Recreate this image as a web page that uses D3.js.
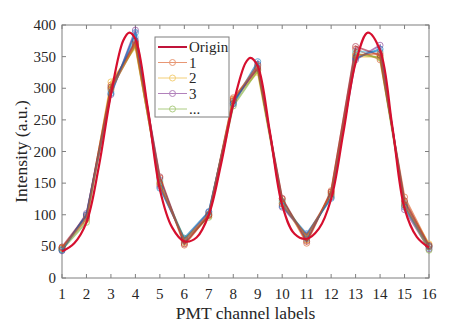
<!DOCTYPE html>
<html>
<head>
<meta charset="utf-8">
<script src="https://cdn.jsdelivr.net/npm/d3@7"></script>
<style>
  body { margin: 0; background: #fff; }
  text { font-family: "Liberation Serif", "DejaVu Serif", serif; fill: #262626; }
</style>
</head>
<body>
<script>
// channel labels and y ticks
var channels = d3.range(1, 17);
var yTicks = [0, 50, 100, 150, 200, 250, 300, 350, 400];

// red "Origin" curve
var originX = [1, 1.5, 2, 2.5, 3, 3.5, 3.75, 4, 4.5, 5, 5.5, 6, 6.5, 7, 7.5, 8, 8.5, 8.7, 9, 9.5, 10, 10.5, 11, 11.5, 12, 12.5, 13, 13.5, 14, 14.5, 15, 15.5, 16];
var originY = [42, 55, 88, 175, 290, 375, 388, 378, 270, 140, 80, 58, 64, 100, 180, 275, 340, 348, 335, 230, 115, 70, 62, 78, 125, 230, 340, 388, 360, 240, 110, 65, 48];

// measured runs, one per channel
var run1 = [47, 97, 305, 372, 158, 52, 100, 285, 330, 125, 55, 138, 362, 345, 128, 52];
var run2 = [48, 92, 310, 365, 152, 56, 98, 282, 325, 118, 60, 135, 350, 350, 120, 54];
var run3 = [43, 102, 290, 392, 145, 60, 104, 275, 338, 112, 68, 128, 345, 368, 108, 46];
var run4 = [45, 88, 300, 368, 150, 62, 96, 272, 328, 122, 64, 130, 355, 348, 115, 44];
var run5 = [46, 95, 295, 380, 155, 58, 102, 278, 335, 120, 62, 132, 358, 358, 118, 48];
var run6 = [49, 99, 302, 375, 160, 54, 99, 280, 332, 126, 58, 136, 366, 352, 122, 51];
var run7 = [44, 100, 292, 388, 142, 63, 105, 276, 342, 114, 70, 126, 348, 362, 112, 50];
var run8 = [47, 94, 298, 370, 148, 59, 101, 283, 336, 117, 66, 133, 352, 355, 116, 49];

var runs = [run1, run2, run3, run4, run5, run6, run7, run8];
var runColors = ["#D95319", "#EDB120", "#7E2F8E", "#77AC30", "#4DBEEE", "#A2142F", "#0072BD", "#D95319"];

var width = 474, height = 323;
var margin = {left: 62, right: 45, top: 25, bottom: 45};

var svg = d3.select("body").append("svg")
            .attr("width", width)
            .attr("height", height);

var x = d3.scaleLinear().domain([1, 16]).range([margin.left, width - margin.right]);
var y = d3.scaleLinear().domain([0, 400]).range([height - margin.bottom, margin.top]);

var axisColor = "#7f7f7f";

// box
svg.append("rect")
   .attr("x", x(1)).attr("y", y(400))
   .attr("width", x(16) - x(1)).attr("height", y(0) - y(400))
   .attr("fill", "none").attr("stroke", axisColor).attr("stroke-width", 1);

// inward ticks on all four sides
var gTicks = svg.append("g").attr("stroke", axisColor).attr("stroke-width", 1);
channels.forEach(function(c){
   gTicks.append("line").attr("x1", x(c)).attr("x2", x(c)).attr("y1", y(0)).attr("y2", y(0) - 4);
   gTicks.append("line").attr("x1", x(c)).attr("x2", x(c)).attr("y1", y(400)).attr("y2", y(400) + 4);
});
yTicks.forEach(function(t){
   gTicks.append("line").attr("x1", x(1)).attr("x2", x(1) + 4).attr("y1", y(t)).attr("y2", y(t));
   gTicks.append("line").attr("x1", x(16)).attr("x2", x(16) - 4).attr("y1", y(t)).attr("y2", y(t));
});

// tick labels
svg.selectAll(".xlab").data(channels).enter().append("text")
   .attr("class", "xlab")
   .attr("x", function(d){ return x(d); })
   .attr("y", y(0) + 21)
   .attr("text-anchor", "middle")
   .style("font-size", "15px")
   .text(function(d){ return d; });

svg.selectAll(".ylab").data(yTicks).enter().append("text")
   .attr("class", "ylab")
   .attr("x", x(1) - 6)
   .attr("y", function(d){ return y(d) + 5; })
   .attr("text-anchor", "end")
   .style("font-size", "15px")
   .text(function(d){ return d; });

// axis titles
svg.append("text")
   .attr("x", (x(1) + x(16)) / 2)
   .attr("y", 319)
   .attr("text-anchor", "middle")
   .style("font-size", "17.5px")
   .text("PMT channel labels");

svg.append("text")
   .attr("transform", "translate(27," + ((y(0) + y(400)) / 2) + ") rotate(-90)")
   .attr("text-anchor", "middle")
   .style("font-size", "17.5px")
   .text("Intensity (a.u.)");

// measured runs
var runLine = d3.line()
   .x(function(d, i){ return x(channels[i]); })
   .y(function(d){ return y(d); });

runs.forEach(function(r, k){
   var g = svg.append("g").attr("opacity", 0.6);
   g.append("path")
    .attr("d", runLine(r))
    .attr("fill", "none")
    .attr("stroke", runColors[k])
    .attr("stroke-width", 1.8);
   g.selectAll("circle").data(r).enter().append("circle")
    .attr("cx", function(d, i){ return x(channels[i]); })
    .attr("cy", function(d){ return y(d); })
    .attr("r", 3)
    .attr("fill", "none")
    .attr("stroke", runColors[k])
    .attr("stroke-width", 1);
});

// origin curve
var originLine = d3.line()
   .x(function(d, i){ return x(originX[i]); })
   .y(function(d){ return y(d); })
   .curve(d3.curveCatmullRom.alpha(0.5));

svg.append("path")
   .attr("d", originLine(originY))
   .attr("fill", "none")
   .attr("stroke", "#d60f2e")
   .attr("stroke-width", 2.2);

// legend
var lg = svg.append("g").attr("transform", "translate(155,37)");
lg.append("rect")
  .attr("width", 74).attr("height", 80)
  .attr("fill", "#fff").attr("stroke", axisColor).attr("stroke-width", 1);

var legendItems = [
   {label: "Origin", color: "#c0143a", marker: false, op: 1, w: 2},
   {label: "1", color: runColors[0], marker: true, op: 0.6, w: 1},
   {label: "2", color: runColors[1], marker: true, op: 0.6, w: 1},
   {label: "3", color: runColors[2], marker: true, op: 0.6, w: 1},
   {label: "...", color: runColors[3], marker: true, op: 0.6, w: 1}
];

legendItems.forEach(function(it, i){
   var yy = 10 + i * 15.5;
   var row = lg.append("g");
   var sym = row.append("g").attr("opacity", it.op);
   sym.append("line")
      .attr("x1", 3).attr("x2", 32).attr("y1", yy).attr("y2", yy)
      .attr("stroke", it.color).attr("stroke-width", it.w);
   if (it.marker) {
      sym.append("circle").attr("cx", 17.5).attr("cy", yy).attr("r", 3)
         .attr("fill", "none").attr("stroke", it.color).attr("stroke-width", 1);
   }
   row.append("text")
      .attr("x", 34).attr("y", yy + 5)
      .style("font-size", "15px")
      .text(it.label);
});
</script>
</body>
</html>
